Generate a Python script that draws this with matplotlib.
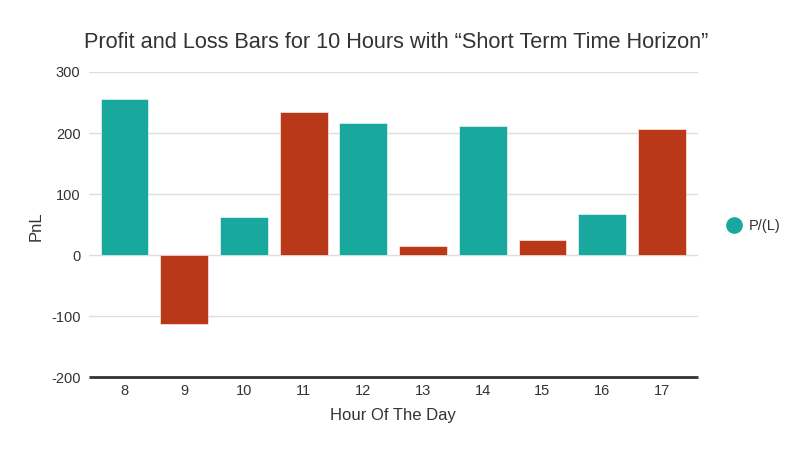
import matplotlib.pyplot as plt
from matplotlib.lines import Line2D

hours = ['8', '9', '10', '11', '12', '13', '14', '15', '16', '17']
pnl = [255, -113, 63, 234, 217, 15, 212, 24, 68, 207]
bar_colors = ['#19a89e', '#b93817'] * 5

plt.rcParams['font.family'] = ['Liberation Sans', 'DejaVu Sans']
plt.rcParams['axes.unicode_minus'] = False

fig = plt.figure(figsize=(8, 4.5), dpi=100)
ax = fig.add_axes([0.111, 0.162, 0.761, 0.678])

x = range(len(hours))
ax.bar(x, pnl, width=0.8, color=bar_colors, edgecolor='white', linewidth=0.4, zorder=3)

ax.set_xlim(-0.6, len(hours) - 0.4)
ax.set_ylim(-200, 300)
ax.set_yticks([-200, -100, 0, 100, 200, 300])
ax.set_xticks(list(x))
ax.set_xticklabels(hours)
ax.grid(axis='y', color='#dddddd', linewidth=1, zorder=0)
ax.tick_params(length=0, labelsize=10.5, colors='#333333')
ax.tick_params(axis='x', pad=5)
ax.tick_params(axis='y', pad=6)

for s in ['top', 'right', 'left']:
    ax.spines[s].set_visible(False)
ax.spines['bottom'].set_color('#333333')
ax.spines['bottom'].set_linewidth(2)
ax.spines['bottom'].set_capstyle('butt')

ax.set_xlabel('Hour Of The Day', fontsize=12, color='#333333', labelpad=7)
ax.set_ylabel('PnL', fontsize=12, color='#333333')
ax.yaxis.set_label_coords(-0.074, 0.495)
fig.text(0.495, 0.905, 'Profit and Loss Bars for 10 Hours with \u201cShort Term Time Horizon\u201d',
         ha='center', va='center', fontsize=15.7, color='#333333')

handle = Line2D([], [], marker='o', linestyle='none', markersize=11,
                markerfacecolor='#19a89e', markeredgecolor='#19a89e')
fig.legend([handle], ['P/(L)'], loc='center left', bbox_to_anchor=(0.883, 0.497),
           frameon=False, fontsize=10.5, handletextpad=0.0, labelcolor='#333333')

fig.savefig('out.png', dpi=100)
